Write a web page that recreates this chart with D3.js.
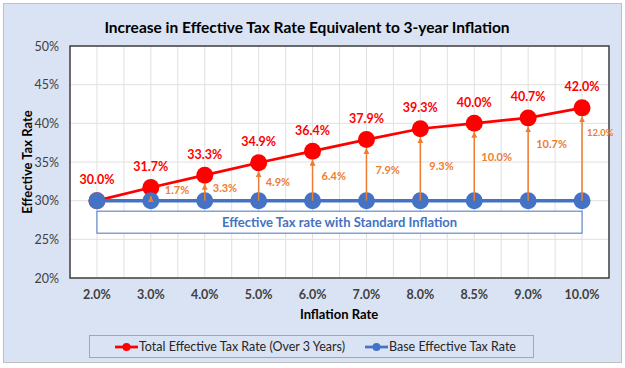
<!DOCTYPE html>
<html><head><meta charset="utf-8">
<script src="https://cdn.jsdelivr.net/npm/d3@7"></script>
<style>body{margin:0;background:#fff}svg{display:block}text{font-family:Lato,"Open Sans",sans-serif}</style>
</head><body><svg id="c" width="625" height="368"></svg>
<script>
const categories = ["2.0%","3.0%","4.0%","5.0%","6.0%","7.0%","8.0%","8.5%","9.0%","10.0%"];
const totalRate = [30.0,31.7,33.3,34.9,36.4,37.9,39.3,40.0,40.7,42.0];
const baseRate = [30,30,30,30,30,30,30,30,30,30];
const increase = [null,1.7,3.3,4.9,6.4,7.9,9.3,10.0,10.7,12.0];
const yTicks = [20,25,30,35,40,45,50];
// layout offsets for increase labels (px), not data
const incLabelDx = [0,14,8,7,9,9,9,7,8,5];
const incLabelDy = [0,-4,0,0,0,0,1,-5,-15,-22];

const svg = d3.select("#c");
const M = {l:70,r:609,t:46,b:278};
svg.append("rect").attr("x",3.5).attr("y",3.5).attr("width",618).attr("height",359)
  .attr("fill","#dae3f3").attr("stroke","#bfbfbf");
svg.append("rect").attr("x",M.l).attr("y",M.t).attr("width",M.r-M.l).attr("height",M.b-M.t).attr("fill","#fff");

const x = d3.scaleBand().domain(categories).range([M.l,M.r]).padding(0);
const y = d3.scaleLinear().domain([20,50]).range([M.b,M.t]);
const bw = x.bandwidth();
const cx = c => x(c)+bw/2;

// grid
const vx = [];
categories.forEach(c=>{vx.push(x(c)); vx.push(cx(c));});
vx.push(M.r);
svg.append("g").selectAll("line").data(vx).join("line")
  .attr("x1",d=>d).attr("x2",d=>d).attr("y1",M.t).attr("y2",M.b).attr("stroke","#e0e0e0").attr("stroke-width",1);
svg.append("g").selectAll("line").data(yTicks).join("line")
  .attr("x1",M.l).attr("x2",M.r).attr("y1",d=>y(d)).attr("y2",d=>y(d)).attr("stroke","#e0e0e0");

// axes
const ya = svg.append("g").attr("transform",`translate(${M.l},0)`)
  .call(d3.axisLeft(y).tickValues(yTicks).tickFormat(d=>d+"%").tickSize(0).tickPadding(11));
ya.select(".domain").remove();
ya.selectAll("text").attr("font-size",12.5).attr("fill","#404040").style("font-family","Lato");
const xa = svg.append("g").attr("transform",`translate(0,${M.b})`)
  .call(d3.axisBottom(x).tickSize(0).tickPadding(12));
xa.select(".domain").remove();
xa.selectAll("text").attr("font-size",12.5).attr("font-weight","bold").attr("fill","#404040").style("font-family","Lato");

svg.append("rect").attr("x",M.l).attr("y",M.t).attr("width",M.r-M.l).attr("height",M.b-M.t)
  .attr("fill","none").attr("stroke","#404040").attr("stroke-width",1.5);

// red series
const line = d3.line().x((d,i)=>cx(categories[i])).y(d=>y(d));
svg.append("path").attr("d",line(totalRate)).attr("fill","none").attr("stroke","#ff0000").attr("stroke-width",2.75);
svg.append("g").selectAll("circle").data(totalRate).join("circle")
  .attr("cx",(d,i)=>cx(categories[i])).attr("cy",d=>y(d)).attr("r",8.5).attr("fill","#ff0000");
// blue series
svg.append("path").attr("d",line(baseRate)).attr("fill","none").attr("stroke","#4472c4").attr("stroke-width",3.5);
svg.append("g").selectAll("circle").data(baseRate).join("circle")
  .attr("cx",(d,i)=>cx(categories[i])).attr("cy",d=>y(d)).attr("r",8.5).attr("fill","#4472c4");

// arrows
svg.append("defs").append("marker").attr("id","ah").attr("viewBox","0 0 10 10").attr("refX",10).attr("refY",5)
  .attr("markerWidth",4).attr("markerHeight",4).attr("orient","auto")
  .append("path").attr("d","M0,0L10,5L0,10Z").attr("fill","#ed7d31");
const ag = svg.append("g");
increase.forEach((v,i)=>{
  if(v==null) return;
  const X = cx(categories[i]);
  const y0 = y(baseRate[i]), y1 = y(baseRate[i]+v)+8.5;
  if(y0-y1>4) ag.append("line").attr("x1",X).attr("x2",X).attr("y1",y0).attr("y2",y1)
     .attr("stroke","#ed7d31").attr("stroke-width",1.5).attr("marker-end","url(#ah)");
  ag.append("text").attr("x",X+incLabelDx[i]).attr("y",(y(baseRate[i])+y(baseRate[i]+v))/2+incLabelDy[i])
    .attr("dy","0.35em").attr("font-size",i===9?9.5:11).attr("font-weight","bold").attr("fill","#ed7d31")
    .text(v.toFixed(1)+"%");
});

// red labels
svg.append("g").selectAll("text").data(totalRate).join("text")
  .attr("x",(d,i)=>cx(categories[i])).attr("y",d=>y(d)-21).attr("dy","0.35em").attr("text-anchor","middle")
  .attr("font-size",12.5).attr("font-weight","bold").attr("fill","#ff0000").text(d=>d.toFixed(1)+"%");

// text box
const bx0 = cx(categories[0]), bx1 = cx(categories[categories.length-1]);
svg.append("rect").attr("x",bx0).attr("y",y(30)+10.5).attr("width",bx1-bx0).attr("height",22)
  .attr("fill","#fff").attr("stroke","#4472c4").attr("stroke-width",1);
svg.append("text").attr("x",(bx0+bx1)/2).attr("y",y(30)+21.5).attr("dy","0.35em").attr("text-anchor","middle")
  .attr("font-size",13).attr("font-weight","bold").attr("fill","#4472c4").text("Effective Tax rate with Standard Inflation");

// titles
svg.append("text").attr("x",307).attr("y",28).attr("dy","0.35em").attr("text-anchor","middle")
  .attr("font-size",15.5).attr("font-weight","bold").attr("fill","#000").text("Increase in Effective Tax Rate Equivalent to 3-year Inflation");
svg.append("text").attr("transform","translate(27,162) rotate(-90)").attr("dy","0.35em").attr("text-anchor","middle")
  .attr("font-size",13).attr("font-weight","bold").attr("fill","#000").text("Effective Tax Rate");
svg.append("text").attr("x",339).attr("y",314).attr("dy","0.35em").attr("text-anchor","middle")
  .attr("font-size",13).attr("font-weight","bold").attr("fill","#000").text("Inflation Rate");

// legend
svg.append("rect").attr("x",89.5).attr("y",335.5).attr("width",444).attr("height",22).attr("fill","#dae3f3").attr("stroke","#a6a6a6");
const leg = [{t:"Total Effective Tax Rate (Over 3 Years)",c:"#ff0000",x:115},{t:"Base Effective Tax Rate",c:"#4472c4",x:365}];
leg.forEach(L=>{
  svg.append("line").attr("x1",L.x).attr("x2",L.x+23).attr("y1",347).attr("y2",347).attr("stroke",L.c).attr("stroke-width",2.75);
  svg.append("circle").attr("cx",L.x+11.5).attr("cy",347).attr("r",4).attr("fill",L.c);
  svg.append("text").attr("x",L.x+24).attr("y",347).attr("dy","0.35em").attr("font-size",12.5).attr("fill","#262626").text(L.t);
});
</script></body></html>
